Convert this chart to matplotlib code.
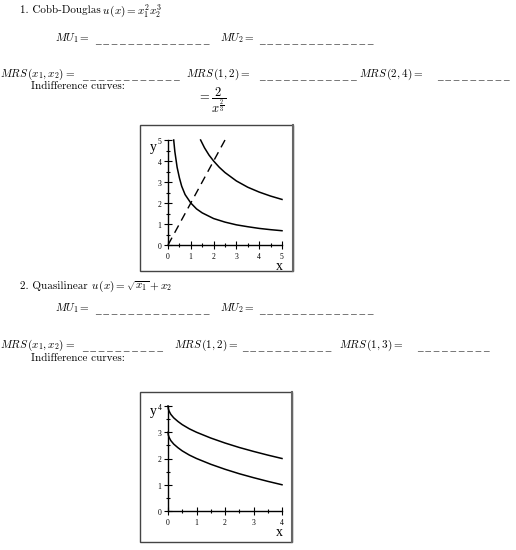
import numpy as np
import matplotlib
matplotlib.use("Agg")
import matplotlib.pyplot as plt
from matplotlib.patches import Rectangle
from matplotlib.ticker import MultipleLocator

plt.rcParams['font.family'] = ['cmr10', 'DejaVu Serif']
plt.rcParams['mathtext.fontset'] = 'cm'
plt.rcParams['axes.formatter.use_mathtext'] = True

# Cobb-Douglas indifference curves
cd_low_x = [0.25, 0.3, 0.4, 0.5, 0.6, 0.75, 1.0, 1.25, 1.5, 2.0, 2.5, 3.0, 3.5, 4.0, 4.5, 5.0]
cd_low_y = [5.0, 4.45, 3.7, 3.2, 2.8, 2.4, 2.0, 1.72, 1.53, 1.26, 1.09, 0.96, 0.87, 0.79, 0.73, 0.68]
cd_high_x = [1.43, 1.6, 1.8, 2.0, 2.25, 2.5, 3.0, 3.5, 4.0, 4.5, 5.0]
cd_high_y = [5.0, 4.63, 4.28, 4.0, 3.7, 3.45, 3.05, 2.75, 2.52, 2.33, 2.17]
ray_x = [0, 2.5]
ray_y = [0, 5]

# quasilinear indifference curves
ql_x = [0, 0.01, 0.03, 0.06, 0.1, 0.2, 0.35, 0.5, 0.75, 1.0, 1.5, 2.0, 2.5, 3.0, 3.5, 4.0]
ql_low_y = [3.0, 2.9, 2.83, 2.76, 2.68, 2.55, 2.41, 2.29, 2.13, 2.0, 1.78, 1.59, 1.42, 1.27, 1.13, 1.0]
ql_high_y = [4.0, 3.9, 3.83, 3.76, 3.68, 3.55, 3.41, 3.29, 3.13, 3.0, 2.78, 2.59, 2.42, 2.27, 2.13, 2.0]

W, H = 516, 550
FS = 8     # plain text
MS = 8     # formulas
fig = plt.figure(figsize=(W / 100, H / 100), dpi=100)


def fx(px):
    return px / W


def fy(py):
    return 1 - py / H


def txt(px, py, s, size=FS):
    fig.text(fx(px), fy(py), s, fontsize=size, ha='left', va='baseline')


def blank(px0, px1, py):
    n = int((px1 - px0 - 5) / 8.3)
    fig.text(fx(px0), fy(py), "_ " * n + "_", fontsize=8, family='Liberation Serif',
             ha='left', va='baseline')


def make_box(px0, px1, py0, py1):
    fig.add_artist(Rectangle((fx(px0), fy(py1)), (px1 - px0) / W, (py1 - py0) / H,
                             transform=fig.transFigure, fill=False, lw=1, ec='#444444'))
    # slightly heavier right edge, like the shadow in the scan
    fig.add_artist(plt.Line2D([fx(px1), fx(px1)], [fy(py0), fy(py1)],
                              transform=fig.transFigure, lw=1.5, color='#666666'))


def make_axes(px0, px1, py0, py1, xmax, ymax):
    ax = fig.add_axes([fx(px0), fy(py0), (px1 - px0) / W, (py0 - py1) / H])
    ax.set_xlim(0, xmax)
    ax.set_ylim(0, ymax)
    for s in ['top', 'right']:
        ax.spines[s].set_visible(False)
    for s in ['left', 'bottom']:
        ax.spines[s].set_linewidth(1.0)
    ax.xaxis.set_major_locator(MultipleLocator(1))
    ax.yaxis.set_major_locator(MultipleLocator(1))
    ax.xaxis.set_minor_locator(MultipleLocator(0.5))
    ax.yaxis.set_minor_locator(MultipleLocator(0.5))
    ax.tick_params(which='major', direction='inout', length=6, width=0.8,
                   labelsize=5.5, pad=1)
    ax.tick_params(which='minor', direction='inout', length=3, width=0.8)
    for lab in ax.get_xticklabels() + ax.get_yticklabels():
        lab.set_family('Liberation Serif')
    ax.patch.set_alpha(0)
    return ax


# ---- section 1 ----
txt(20, 13, "1. Cobb-Douglas")
txt(102, 13, r"$u\,(x) = x_1^2x_2^3$", MS)
txt(55, 41, r"$MU_1 =$", MS)
blank(95, 212, 42)
txt(220, 41, r"$MU_2 =$", MS)
blank(259, 377, 42)
txt(0, 77, r"$MRS\,(x_1, x_2) =$", MS)
blank(82, 182, 78)
txt(186, 77, r"$MRS\,(1, 2) =$", MS)
blank(259, 357, 78)
txt(359, 77, r"$MRS\,(2, 4) =$", MS)
blank(437, 514, 78)
txt(31, 89, "Indifference curves:")
fig.text(fx(197), fy(100), r"$= \dfrac{2}{x^{\frac{2}{3}}}$", fontsize=9,
         ha='left', va='center')

make_box(140, 293, 125, 271)
ax1 = make_axes(168, 282, 245, 140, 5, 5)
ax1.plot(cd_low_x, cd_low_y, color='black', lw=1.1, clip_on=False)
ax1.plot(cd_high_x, cd_high_y, color='black', lw=1.1, clip_on=False)
ax1.plot(ray_x, ray_y, color='black', lw=1.0, ls=(0, (6, 4)), clip_on=False)
fig.text(fx(153), fy(148), "y", fontsize=10, family='Liberation Serif', ha='center', va='center')
fig.text(fx(279), fy(266), "x", fontsize=10, family='Liberation Serif', ha='center', va='center')

# ---- section 2 ----
txt(20, 289, "2. Quasilinear")
txt(91, 289, r"$u\,(x) = \sqrt{x_1} + x_2$", MS)
txt(55, 311, r"$MU_1 =$", MS)
blank(95, 212, 312)
txt(220, 311, r"$MU_2 =$", MS)
blank(259, 377, 312)
txt(0, 348, r"$MRS\,(x_1, x_2) =$", MS)
blank(82, 165, 349)
txt(174, 348, r"$MRS\,(1, 2) =$", MS)
blank(242, 334, 349)
txt(339, 348, r"$MRS\,(1, 3) =$", MS)
blank(417, 490, 349)
txt(31, 361, "Indifference curves:")

make_box(140, 292, 392, 542)
ax2 = make_axes(168, 282, 511, 406, 4, 4)
ax2.plot(ql_x, ql_low_y, color='black', lw=1.1, clip_on=False)
ax2.plot(ql_x, ql_high_y, color='black', lw=1.1, clip_on=False)
fig.text(fx(153), fy(412), "y", fontsize=10, family='Liberation Serif', ha='center', va='center')
fig.text(fx(279), fy(532), "x", fontsize=10, family='Liberation Serif', ha='center', va='center')

fig.savefig("out.png", dpi=100)
